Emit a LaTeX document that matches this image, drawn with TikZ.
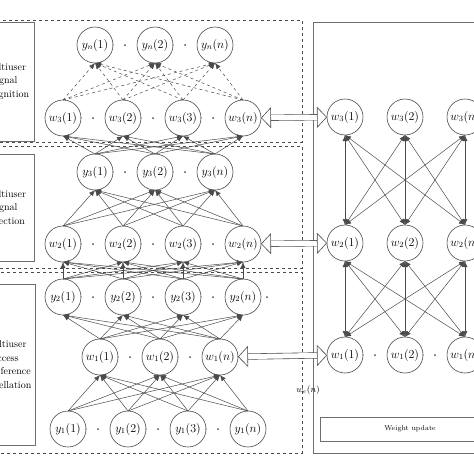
\documentclass[tikz,border=0pt]{standalone}
\usepackage{amsmath}
\usetikzlibrary{positioning,arrows.meta,calc}
\definecolor{netgray}{HTML}{4a4a4a}

\begin{document}
\begin{tikzpicture}[x=1pt, y=-1pt,
    neuron/.style={draw=netgray, circle, minimum size=36pt, inner sep=0pt, outer sep=0pt, line width=0.6pt, font=\large},
    layerbox/.style={draw=netgray, dashed, line width=0.5pt},
    labelbox/.style={draw=netgray!80, line width=0.8pt, align=center, font=\fontsize{10}{13.5}\selectfont},
    conn/.style={-{Latex[length=6pt,width=5pt]}, draw=netgray, line width=0.5pt},
    dconn/.style={conn, dashed},
    biconn/.style={{Latex[length=6pt,width=5pt]}-{Latex[length=6pt,width=5pt]}, draw=netgray, line width=0.5pt},
    link/.style={{Triangle[open,fill=white,length=10pt,width=21pt]}-{Triangle[open,fill=white,length=10pt,width=21pt]}, double=white, double distance=5pt, draw=netgray, line width=0.6pt},
]
\useasboundingbox (0,0) rectangle (474,474);

% layer frames and labels
\draw[layerbox] (-40,20) rectangle (302,142);
\draw[layerbox] (-40,146) rectangle (302,268);
\draw[layerbox] (-40,272) rectangle (302,453);
\node[labelbox, minimum width=58pt, minimum height=119pt] (recog) at (5,81.5) {Multiuser\\signal\\recognition};
\node[labelbox, minimum width=58pt, minimum height=107pt] (detect) at (5,207.5) {Multiuser\\signal\\detection};
\node[labelbox, minimum width=59pt, minimum height=161pt] (cancel) at (5.5,364.5) {Multiuser\\access\\interference\\cancellation};
\draw[labelbox] (313,22) rectangle (540,453);
\node[labelbox, minimum width=180pt, minimum height=24pt, font=\fontsize{7}{8}\selectfont] (wu) at (410,429) {Weight update};

% left network
\node[neuron] (yn1) at (95,45) {$y_n(1)$};
\node[neuron, right=24pt of yn1] (yn2) {$y_n(2)$};
\node[neuron, right=24pt of yn2] (ynn) {$y_n(n)$};
\node[neuron] (w31) at (63,118) {$w_3(1)$};
\node[neuron, right=24pt of w31] (w32) {$w_3(2)$};
\node[neuron, right=24pt of w32] (w33) {$w_3(3)$};
\node[neuron, right=24pt of w33] (w3n) {$w_3(n)$};
\node[neuron] (y31) at (95,172) {$y_3(1)$};
\node[neuron, right=24pt of y31] (y32) {$y_3(2)$};
\node[neuron, right=24pt of y32] (y3n) {$y_3(n)$};
\node[neuron] (w21) at (63,244) {$w_2(1)$};
\node[neuron, right=24pt of w21] (w22) {$w_2(2)$};
\node[neuron, right=24pt of w22] (w23) {$w_2(3)$};
\node[neuron, right=24pt of w23] (w2n) {$w_2(n)$};
\node[neuron] (y21) at (63,297) {$y_2(1)$};
\node[neuron, right=24pt of y21] (y22) {$y_2(2)$};
\node[neuron, right=24pt of y22] (y23) {$y_2(3)$};
\node[neuron, right=24pt of y23] (y2n) {$y_2(n)$};
\node[neuron] (w11) at (100,357) {$w_1(1)$};
\node[neuron, right=24pt of w11] (w12) {$w_1(2)$};
\node[neuron, right=24pt of w12] (w1n) {$w_1(n)$};
\node[neuron] (y11) at (68,429) {$y_1(1)$};
\node[neuron, right=24pt of y11] (y12) {$y_1(2)$};
\node[neuron, right=24pt of y12] (y13) {$y_1(3)$};
\node[neuron, right=24pt of y13] (y1n) {$y_1(n)$};

\foreach \s in {w31,w32,w33,w3n} \foreach \t in {yn1,yn2,ynn} \draw[dconn] (\s.north) -- (\t.south);
\foreach \s in {y31,y32,y3n} \foreach \t in {w31,w32,w33,w3n} \draw[conn] (\s.north) -- (\t.south);
\foreach \s in {w21,w22,w23,w2n} \foreach \t in {y31,y32,y3n} \draw[conn] (\s.north) -- (\t.south);
\foreach \s in {y21,y22,y23,y2n} \foreach \t in {w21,w22,w23,w2n} \draw[conn] (\s.north) -- (\t.south);
\foreach \s in {w11,w12,w1n} \foreach \t in {y21,y22,y23,y2n} \draw[conn] (\s.north) -- (\t.south);
\foreach \s in {y11,y12,y13,y1n} \foreach \t in {w11,w12,w1n} \draw[conn] (\s.north) -- (\t.south);

% weight update network
\node[neuron] (rw31) at (345,117) {$w_3(1)$};
\node[neuron, right=24pt of rw31] (rw32) {$w_3(2)$};
\node[neuron, right=24pt of rw32] (rw3n) {$w_3(n)$};
\node[neuron] (rw21) at (345,243) {$w_2(1)$};
\node[neuron, right=24pt of rw21] (rw22) {$w_2(2)$};
\node[neuron, right=24pt of rw22] (rw2n) {$w_2(n)$};
\node[neuron] (rw11) at (345,355) {$w_1(1)$};
\node[neuron, right=24pt of rw11] (rw12) {$w_1(2)$};
\node[neuron, right=24pt of rw12] (rw1n) {$w_1(n)$};

\foreach \s in {rw31,rw32,rw3n} \foreach \t in {rw21,rw22,rw2n} \draw[biconn] (\s.south) -- (\t.north);
\foreach \s in {rw21,rw22,rw2n} \foreach \t in {rw11,rw12,rw1n} \draw[biconn] (\s.south) -- (\t.north);

\draw[link] (w3n) -- (rw31);
\draw[link] (w2n) -- (rw21);
\draw[link] (w1n) -- (rw11);
\node[font=\small] (we) at (308,390) {$w_e(n)$};

% ellipsis dots
\foreach \a/\b in {yn1/yn2,yn2/ynn,w31/w32,w32/w33,w33/w3n,y31/y32,y32/y3n,w21/w22,w22/w23,w23/w2n,
    y21/y22,y22/y23,y23/y2n,w11/w12,w12/w1n,y11/y12,y12/y13,y13/y1n,rw11/rw12,rw12/rw1n}
  \fill[netgray] ($(\a)!0.5!(\b)$) circle (1pt) (\a.east) circle (0.6pt);
\fill[netgray] (w1n.east) circle (0.6pt) ($(y2n.east)+(6,0)$) circle (1pt);
\end{tikzpicture}
\end{document}
